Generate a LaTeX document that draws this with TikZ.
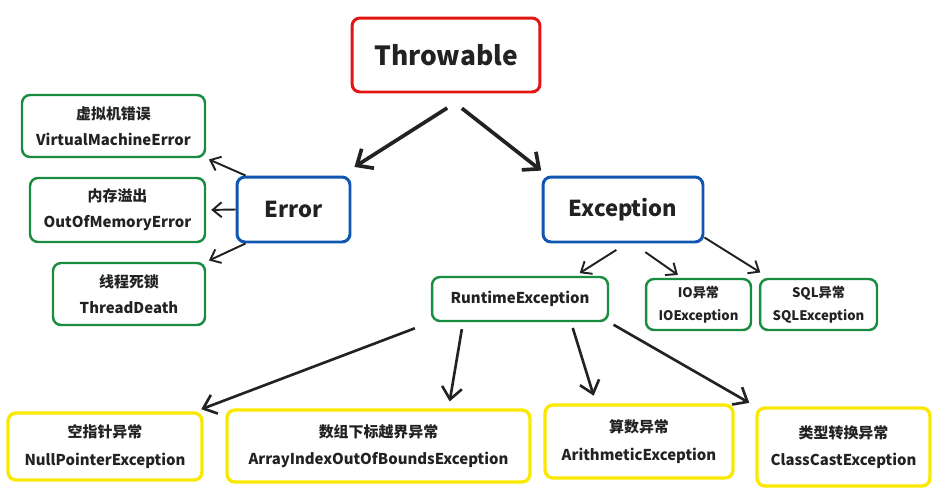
\documentclass[tikz,border=0pt]{standalone}
\usepackage{fontspec}
\setmainfont{Noto Sans CJK SC}
\usepackage{tikz}
\usetikzlibrary{arrows.meta,calc}

\definecolor{thrred}{RGB}{228,20,20}
\definecolor{baseblue}{RGB}{14,86,176}
\definecolor{subgreen}{RGB}{26,140,64}
\definecolor{leafyellow}{RGB}{250,232,0}
\definecolor{txt}{RGB}{34,34,34}

\begin{document}
\begin{tikzpicture}[x=0.02cm,y=-0.02cm]
\tikzset{
	box/.style = {rounded corners=0.16cm, fill=white, text=txt, align=center, inner sep=0},
	top box/.style = {box, draw=thrred, line width=1.7pt, font=\bfseries\fontsize{15}{18}\selectfont},
	base box/.style = {box, draw=baseblue, line width=1.7pt, font=\bfseries\fontsize{12.5}{15}\selectfont},
	sub box/.style = {box, draw=subgreen, line width=1.4pt, font=\bfseries\fontsize{8.5}{15}\selectfont},
	leaf box/.style = {box, draw=leafyellow, line width=1.9pt, font=\bfseries\fontsize{8.5}{15.5}\selectfont},
	big arrow/.style = {-{Straight Barb[length=2.6mm,width=4.6mm]}, line width=2.1pt, draw=txt},
	small arrow/.style = {-{Straight Barb[length=1.8mm,width=3mm]}, line width=1.1pt, draw=txt},
	mid arrow/.style = {-{Straight Barb[length=2.4mm,width=4mm]}, line width=1.5pt, draw=txt},
}
\useasboundingbox (0,0) rectangle (945,498);

% root
\node (thr) [top box, minimum width=3.76cm, minimum height=1.48cm] at (446,55) {Throwable};

% error branch
\node (err) [base box, minimum width=2.26cm, minimum height=1.3cm] at (293.5,209.5) {Error};
\node (vme) [sub box, minimum width=3.66cm, minimum height=1.24cm] at (113.5,126) {虚拟机错误\\VirtualMachineError};
\node (oom) [sub box, minimum width=3.5cm, minimum height=1.28cm] at (117.5,210) {内存溢出\\OutOfMemoryError};
\node (td) [sub box, minimum width=3.04cm, minimum height=1.24cm] at (129,294) {线程死锁\\ThreadDeath};

% exception branch
\node (exc) [base box, minimum width=3.2cm, minimum height=1.3cm] at (623,209.5) {Exception};
\node (rt) [sub box, minimum width=3.52cm, minimum height=0.88cm] at (520,299) {RuntimeException};
\node (io) [sub box, minimum width=2.1cm, minimum height=1.02cm, font=\bfseries\fontsize{7.5}{13}\selectfont] at (698.5,304.5) {IO异常\\IOException};
\node (sql) [sub box, minimum width=2.34cm, minimum height=1.02cm, font=\bfseries\fontsize{7.5}{13}\selectfont] at (818.5,304.5) {SQL异常\\SQLException};

% runtime exceptions
\node (npe) [leaf box, minimum width=3.88cm, minimum height=1.34cm] at (105,446.5) {空指针异常\\NullPointerException};
\node (aio) [leaf box, minimum width=6.06cm, minimum height=1.44cm] at (378.5,446) {数组下标越界异常\\ArrayIndexOutOfBoundsException};
\node (ari) [leaf box, minimum width=3.76cm, minimum height=1.46cm] at (639,441.5) {算数异常\\ArithmeticException};
\node (cce) [leaf box, minimum width=3.46cm, minimum height=1.56cm] at (843.5,447) {类型转换异常\\ClassCastException};

% connectors
\draw[big arrow, shorten <=0.54cm, shorten >=0.32cm] ([xshift=0.48cm]thr.south) -- ([xshift=0.95cm]err.north);
\draw[big arrow, shorten <=0.48cm, shorten >=0.16cm] ([xshift=-0.06cm]thr.south) -- ([xshift=0.12cm]exc.north west);

\draw[small arrow, shorten >=0.06cm] ([xshift=0.2cm]err.north west) -- (vme.south east);
\draw[small arrow, shorten >=0.1cm] (err.west) -- (oom.east);
\draw[small arrow, shorten >=0.06cm] ([xshift=0.2cm]err.south west) -- (td.north east);

\draw[small arrow, shorten <=0.24cm, shorten >=0.1cm] ([xshift=0.07cm]exc.south) -- ([xshift=1.11cm]rt.north);
\draw[small arrow, shorten <=0.3cm, shorten >=0.1cm] ([xshift=0.2cm]exc.south) -- ([xshift=-0.33cm]io.north);
\draw[small arrow, shorten >=0.2cm] ([yshift=0.12cm]exc.south east) -- ([xshift=0.2cm]sql.north west);

\draw[mid arrow, shorten <=0.34cm, shorten >=0.12cm] (rt.south west) -- ([xshift=-0.16cm]npe.north east);
\draw[mid arrow, shorten <=0.14cm, shorten >=0.14cm] ([xshift=-1.14cm]rt.south) -- ([xshift=1.4cm]aio.north);
\draw[mid arrow, shorten <=0.12cm, shorten >=0.16cm] ([xshift=1.02cm]rt.south) -- ([xshift=-0.86cm]ari.north);
\draw[mid arrow, shorten <=0.1cm, shorten >=0.14cm] (rt.south east) -- (cce.north west);

\end{tikzpicture}
\end{document}
